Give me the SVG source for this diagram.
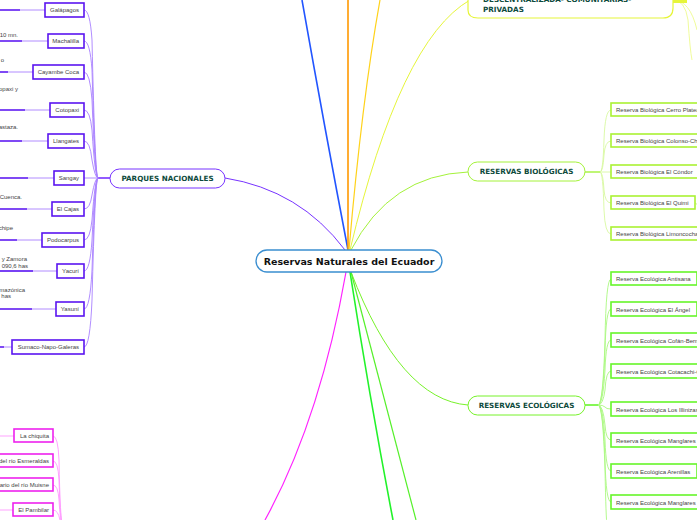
<svg xmlns="http://www.w3.org/2000/svg" width="697" height="520" viewBox="0 0 697 520">
<style>
.bg{fill:#fff}
.t{font-family:"Liberation Sans",Arial,sans-serif;font-size:6px;fill:#444}
.m{font-family:"DejaVu Sans",sans-serif;font-size:7.2px;font-weight:bold;fill:#0d4a3c}
.c{font-family:"DejaVu Sans",sans-serif;font-size:9.5px;font-weight:bold;fill:#111}
.pb{fill:#fff;stroke:#5a14f0;stroke-width:1.6}
.mb{fill:#fff;stroke:#ee22ee;stroke-width:1.6}
.bb{fill:#fff;stroke:#aaf233;stroke-width:1.6}
.eb{fill:#fff;stroke:#66f52a;stroke-width:1.6}
.pl{fill:none;stroke:#a880ff;stroke-width:0.9}
.ml{fill:none;stroke:#ff99ff;stroke-width:0.9}
.bl{fill:none;stroke:#d8f8a0;stroke-width:0.9}
.el{fill:none;stroke:#aaf880;stroke-width:0.9}
</style>
<rect class="bg" width="697" height="520"/>
<g id="connectors">
<path d="M348 250 Q325 130 302 0" fill="none" stroke="#2255ff" stroke-width="1.6"/>
<path d="M348 250 L348 0" fill="none" stroke="#ff9900" stroke-width="1.6"/>
<path d="M349 250 Q362 100 380 0" fill="none" stroke="#ffd21a" stroke-width="1.2"/>
<path d="M350 250 Q400 40 470 0" fill="none" stroke="#e6f53a" stroke-width="1"/>
<path d="M351 250 Q390 175 468 172" fill="none" stroke="#a4f23a" stroke-width="1"/>
<path d="M351 272 Q400 400 468 405" fill="none" stroke="#77f22a" stroke-width="1"/>
<path d="M350 272 Q370 400 393 520" fill="none" stroke="#22f22a" stroke-width="1.6"/>
<path d="M351 272 Q385 400 416 520" fill="none" stroke="#55f02a" stroke-width="1.2"/>
<path d="M346 272 Q320 420 265 520" fill="none" stroke="#ff22ff" stroke-width="1.2"/>
<path d="M345 250 Q300 190 225 178" fill="none" stroke="#7733ff" stroke-width="1"/>
<path d="M673 0 Q685 0 688 20 Q690 50 692 60" fill="none" stroke="#eefa90" stroke-width="0.9"/>
<path d="M673 0 Q690 0 697 30" fill="none" stroke="#eefa90" stroke-width="0.9"/>
<!-- parques -->
<path d="M98 178 L110 178" stroke="#7733ff" stroke-width="1.6"/>
<g class="pl">
<path d="M84 10 Q90 10 92 40 Q95 178 98 178"/>
<path d="M84 41 Q90 41 92 70 Q95 178 98 178"/>
<path d="M84 72 Q90 72 92 100 Q95 178 98 178"/>
<path d="M84 110 Q90 110 92 130 Q95 178 98 178"/>
<path d="M84 141 Q90 141 92 160 Q95 178 98 178"/>
<path d="M84 178 L98 178"/>
<path d="M84 209 Q90 209 92 195 Q95 178 98 178"/>
<path d="M84 240 Q90 240 92 220 Q95 178 98 178"/>
<path d="M84 271 Q90 271 92 240 Q95 178 98 178"/>
<path d="M84 309 Q90 309 92 270 Q95 178 98 178"/>
<path d="M84 347 Q90 347 92 300 Q95 178 98 178"/>
<path d="M45 10 H0"/><path d="M48 41 H0"/><path d="M33 72 H0"/><path d="M50 110 H0"/><path d="M48 141 H0"/><path d="M54 178 H0"/><path d="M52 209 H0"/><path d="M42 240 H0"/><path d="M57 271 H0"/><path d="M56 309 H0"/><path d="M12 347 H0"/>
</g>
<g stroke="#5a14f0" stroke-width="1.4">
<path d="M0 10H20"/><path d="M0 41H22"/><path d="M0 72H8"/><path d="M0 110H25"/><path d="M0 141H22"/><path d="M0 178H28"/><path d="M0 209H27"/><path d="M0 240H17"/><path d="M0 271H33"/><path d="M0 309H32"/><path d="M0 347H4"/>
</g>
<!-- magenta -->
<g class="ml">
<path d="M53 436 Q58 436 59 460 Q60 520 63 530"/>
<path d="M53 461 Q58 461 59 480 Q60 520 63 530"/>
<path d="M53 485 Q58 485 59 500 Q60 520 63 530"/>
<path d="M53 510 Q58 510 60 520 Q62 528 63 530"/>
<path d="M14 436 H0"/><path d="M13 510 H0"/>
</g>
<!-- bio -->
<path d="M585 172 L600 172" stroke="#a4f23a" stroke-width="1.4"/>
<g class="bl">
<path d="M600 172 Q603 172 604 140 Q605 110 611 110"/>
<path d="M600 172 Q603 172 604 155 Q605 141 611 141"/>
<path d="M600 172 L611 172"/>
<path d="M600 172 Q603 172 604 190 Q605 203 611 203"/>
<path d="M600 172 Q603 172 604 210 Q605 234 611 234"/>
<path d="M695 203 Q697 203 697 205"/>
</g>
<!-- eco -->
<path d="M585 405 L598 405" stroke="#66f52a" stroke-width="1.6"/>
<g class="el">
<path d="M598 405 Q603 405 605 340 Q606 279 611 279"/>
<path d="M598 405 Q603 405 605 350 Q606 309 611 309"/>
<path d="M598 405 Q603 405 605 370 Q606 340 611 340"/>
<path d="M598 405 Q603 405 605 390 Q606 371 611 371"/>
<path d="M598 405 Q603 405 605 407 Q606 409 611 409"/>
<path d="M598 405 Q603 405 605 425 Q606 440 611 440"/>
<path d="M598 405 Q603 405 605 440 Q606 471 611 471"/>
<path d="M598 405 Q603 405 605 460 Q606 502 611 502"/>
<path d="M598 405 Q603 405 605 470 Q606 520 607 525"/>
</g>
</g>
<g id="root">
<rect x="256" y="250" width="186" height="22" rx="11" fill="#fff" stroke="#3a8ed0" stroke-width="1.3"/>
<text class="c" x="349" y="264.5" text-anchor="middle">Reservas Naturales del Ecuador</text>
</g>
<g id="descentralizada">
<path d="M468 -10 V10 Q468 18 478 18 H663 Q673 18 673 8 V-10 Z" fill="#fff" stroke="#e6f53a" stroke-width="1.2"/>
<rect x="673" y="-3" width="14" height="6" fill="#e6f53a"/>
<text class="m" x="483" y="2">DESCENTRALIZADA- COMUNITARIAS-</text>
<text class="m" x="483" y="11.5">PRIVADAS</text>
</g>
<g id="parques">
<rect x="110" y="169" width="115" height="19" rx="9.5" fill="#fff" stroke="#7733ff" stroke-width="1"/>
<text class="m" x="167.5" y="181" text-anchor="middle">PARQUES NACIONALES</text>
</g>
<g id="parques-hijos">
<g><rect class="pb" x="45" y="3" width="39" height="14"/><text class="t" x="79" y="12.3" text-anchor="end">Galápagos</text></g>
<g><rect class="pb" x="48" y="34" width="36" height="14"/><text class="t" x="79" y="43.3" text-anchor="end">Machalilla</text></g>
<g><rect class="pb" x="33" y="65" width="51" height="14"/><text class="t" x="79" y="74.3" text-anchor="end">Cayambe Coca</text></g>
<g><rect class="pb" x="50" y="103" width="34" height="14"/><text class="t" x="79" y="112.3" text-anchor="end">Cotopaxi</text></g>
<g><rect class="pb" x="48" y="134" width="36" height="14"/><text class="t" x="79" y="143.3" text-anchor="end">Llangates</text></g>
<g><rect class="pb" x="54" y="171" width="30" height="14"/><text class="t" x="79" y="180.3" text-anchor="end">Sangay</text></g>
<g><rect class="pb" x="52" y="202" width="32" height="14"/><text class="t" x="79" y="211.3" text-anchor="end">El Cajas</text></g>
<g><rect class="pb" x="42" y="233" width="42" height="14"/><text class="t" x="79" y="242.3" text-anchor="end">Podocarpus</text></g>
<g><rect class="pb" x="57" y="264" width="27" height="14"/><text class="t" x="79" y="273.3" text-anchor="end">Yacurí</text></g>
<g><rect class="pb" x="56" y="302" width="28" height="14"/><text class="t" x="79" y="311.3" text-anchor="end">Yasuní</text></g>
<g><rect class="pb" x="12" y="340" width="72" height="14"/><text class="t" x="79" y="349.3" text-anchor="end">Sumaco-Napo-Galeras</text></g>
</g>
<g id="parques-notas">
<text class="t" x="18" y="37" text-anchor="end">10 mn.</text>
<text class="t" x="4" y="62" text-anchor="end">o</text>
<text class="t" x="18" y="91" text-anchor="end">opaxi y</text>
<text class="t" x="18" y="129" text-anchor="end">astaza.</text>
<text class="t" x="22" y="199" text-anchor="end">Cuenca.</text>
<text class="t" x="13" y="230" text-anchor="end">chipe</text>
<text class="t" x="27" y="261" text-anchor="end">y Zamora</text>
<text class="t" x="28" y="267.5" text-anchor="end">090,6 has</text>
<text class="t" x="25" y="292" text-anchor="end">mazónica</text>
<text class="t" x="11" y="298" text-anchor="end">has</text>
</g>
<g id="magenta-hijos">
<g><rect class="mb" x="14" y="429" width="39" height="13"/><text class="t" x="49" y="438" text-anchor="end">La chiquita</text></g>
<g><rect class="mb" x="-5" y="454" width="58" height="13"/><text class="t" x="49" y="463" text-anchor="end">Estuario del río Esmeraldas</text></g>
<g><rect class="mb" x="-5" y="478" width="58" height="13"/><text class="t" x="49" y="487" text-anchor="end">Estuario del río Muisne</text></g>
<g><rect class="mb" x="13" y="503" width="40" height="13"/><text class="t" x="49" y="512" text-anchor="end">El Pambilar</text></g>
</g>
<g id="biologicas">
<rect x="468" y="162" width="117" height="19" rx="9.5" fill="#fff" stroke="#a4f23a" stroke-width="1"/>
<text class="m" x="526.5" y="174" text-anchor="middle">RESERVAS BIOLÓGICAS</text>
</g>
<g id="bio-hijos">
<g><rect class="bb" x="611" y="103" width="100" height="13"/><text class="t" x="616" y="112">Reserva Biológica Cerro Plateado</text></g>
<g><rect class="bb" x="611" y="134" width="100" height="13"/><text class="t" x="616" y="143">Reserva Biológica Colonso-Chalupas</text></g>
<g><rect class="bb" x="611" y="165" width="100" height="13"/><text class="t" x="616" y="174">Reserva Biológica El Cóndor</text></g>
<g><rect class="bb" x="611" y="196" width="84" height="13"/><text class="t" x="616" y="205">Reserva Biológica El Quimi</text></g>
<g><rect class="bb" x="611" y="227" width="100" height="13"/><text class="t" x="616" y="236">Reserva Biológica Limoncocha</text></g>
</g>
<g id="ecologicas">
<rect x="468" y="396" width="117" height="19" rx="9.5" fill="#fff" stroke="#77f22a" stroke-width="1"/>
<text class="m" x="526.5" y="408" text-anchor="middle">RESERVAS ECOLÓGICAS</text>
</g>
<g id="eco-hijos">
<g><rect class="eb" x="611" y="272" width="86" height="13"/><text class="t" x="616" y="281">Reserva Ecológica Antisana</text></g>
<g><rect class="eb" x="611" y="302" width="86" height="14"/><text class="t" x="616" y="311.5">Reserva Ecológica El Ángel</text></g>
<g><rect class="eb" x="611" y="333" width="100" height="14"/><text class="t" x="616" y="342.5">Reserva Ecológica Cofán-Bermejo</text></g>
<g><rect class="eb" x="611" y="364" width="100" height="14"/><text class="t" x="616" y="373.5">Reserva Ecológica Cotacachi-Cayapas</text></g>
<g><rect class="eb" x="611" y="402" width="100" height="14"/><text class="t" x="616" y="411.5">Reserva Ecológica Los Illinizas</text></g>
<g><rect class="eb" x="611" y="433" width="100" height="14"/><text class="t" x="616" y="442.5">Reserva Ecológica Manglares Cayapas Mataje</text></g>
<g><rect class="eb" x="611" y="464" width="86" height="14"/><text class="t" x="616" y="473.5">Reserva Ecológica Arenillas</text></g>
<g><rect class="eb" x="611" y="495" width="100" height="14"/><text class="t" x="616" y="504.5">Reserva Ecológica Manglares Churute</text></g>
</g>
</svg>
